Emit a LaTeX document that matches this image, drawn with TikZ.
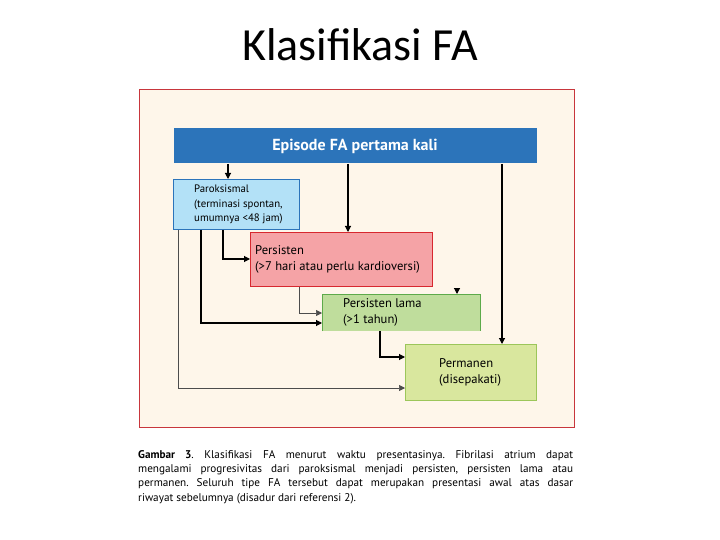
\documentclass[tikz,border=0pt]{standalone}
\usepackage{fontspec}
\setmainfont{Carlito}
\newfontfamily\figfont{PT Sans}
\usetikzlibrary{arrows.meta, positioning}
\definecolor{cFrame}{HTML}{C8363C}
\definecolor{cCream}{HTML}{FEF6EA}
\definecolor{cBar}{HTML}{2C74BA}
\definecolor{cParo}{HTML}{B3E1F7}
\definecolor{cPers}{HTML}{F5A3A6}
\definecolor{cPersB}{HTML}{D7282F}
\definecolor{cLama}{HTML}{BFDD9C}
\definecolor{cLamaB}{HTML}{5DAA4A}
\definecolor{cPerm}{HTML}{D9E79E}
\definecolor{cPermB}{HTML}{9CC65A}

\begin{document}
\begin{tikzpicture}[x=1pt, y=-1pt,
          box/.style={anchor=north west, inner sep=0pt, line width=1pt},
          txt/.style={inner sep=0pt, font=\figfont\fontsize{12.6}{16.5}\selectfont, align=left},
          ar/.style={->, line width=1.1pt},
          arg/.style={->, line width=0.7pt, black!70},
          >={Triangle[length=6pt, width=6pt]}]
        \useasboundingbox (0,0) rectangle (720,540);
        \node[font=\fontsize{46}{48}\selectfont] (title) at (360,45) {Klasifikasi FA};
        \node[box, draw=cFrame, fill=cCream, line width=1.3pt, minimum width=435pt, minimum height=338pt] (fr) at (139,89) {};
        % boxes
        \node[box, fill=cBar, minimum width=363pt, minimum height=35pt,
              font=\figfont\bfseries\fontsize{16}{18}\selectfont, text=white] (ep) at (173,128) {Episode FA pertama kali};
        \node[box, draw=cBar, fill=cParo, minimum width=126pt, minimum height=50pt] (p) at (173,179) {};
        \node[txt, font=\figfont\fontsize{10.8}{14.6}\selectfont, right=21pt of p.west] (pt) {Paroksismal\\(terminasi spontan,\\umumnya <48 jam)};
        \node[box, draw=cPersB, fill=cPers, minimum width=182pt, minimum height=54pt] (s) at (250,232) {};
        \node[txt, right=5pt of s.west] (st) {Persisten\\(>7 hari atau perlu kardioversi)};
        \node[box, fill=cLama, minimum width=157pt, minimum height=36pt] (l) at (322,294) {};
        \draw[cLamaB, line width=1pt] (l.south west) -- (l.north west) -- (l.north east) -- (l.south east);
        \node[txt, right=21pt of l.west] (lt) {Persisten lama\\(>1 tahun)};
        \node[box, draw=cPermB, fill=cPerm, minimum width=131pt, minimum height=56pt] (m) at (405,344) {};
        \node[txt, right=34pt of m.west] (mt) {Permanen\\(disepakati)};
        % panah
        \draw[ar] (ep.south -| 228,0) -- (p.north -| 228,0);
        \draw[ar] (ep.south -| 348,0) -- (s.north -| 348,0);
        \draw[ar] (ep.south -| 502,0) -- (m.north -| 502,0);
        \coordinate (lt0) at (457,289);
        \draw[ar] (lt0) -- (l.north -| lt0);
        \draw[ar] (p.south -| 223,0) |- (s.west |- 0,259);
        \draw[ar] (p.south -| 201,0) |- (l.west |- 0,323);
        \draw[arg] (p.south -| 178,0) |- (m.west |- 0,388);
        \draw[arg] (s.south -| 299,0) |- (l.west |- 0,313);
        \draw[ar] (l.south -| 380,0) |- (m.west |- 0,357);
        % keterangan
        \node[anchor=north west, inner sep=0pt, text width=435pt, align=justify,
              font=\figfont\fontsize{11.2}{14.3}\selectfont\frenchspacing] (cap) at (138,450)
          {\textbf{Gambar 3}. Klasifikasi FA menurut waktu presentasinya. Fibrilasi atrium dapat\linebreak
           mengalami progresivitas dari paroksismal menjadi persisten, persisten lama atau\linebreak
           permanen. Seluruh tipe FA tersebut dapat merupakan presentasi awal atas dasar\linebreak
           riwayat sebelumnya (disadur dari referensi 2).};
      \end{tikzpicture}
\end{document}
